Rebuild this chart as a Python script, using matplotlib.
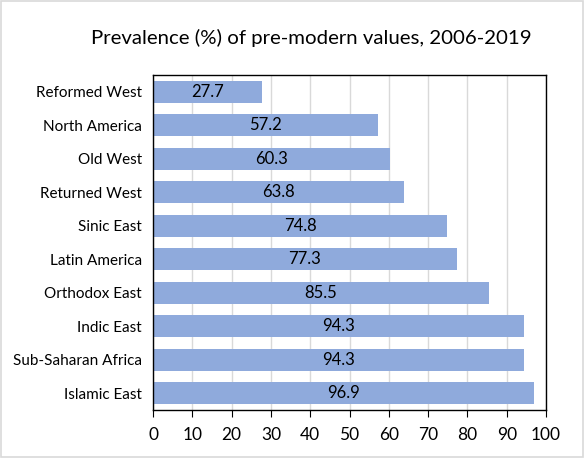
import matplotlib
matplotlib.use("Agg")
import matplotlib.pyplot as plt
from matplotlib.patches import Rectangle

categories = ["Reformed West", "North America", "Old West", "Returned West", "Sinic East",
              "Latin America", "Orthodox East", "Indic East", "Sub-Saharan Africa", "Islamic East"]
values = [27.7, 57.2, 60.3, 63.8, 74.8, 77.3, 85.5, 94.3, 94.3, 96.9]
xticks = [0, 10, 20, 30, 40, 50, 60, 70, 80, 90, 100]
title = "Prevalence (%) of pre-modern values, 2006-2019"

plt.rcParams['font.family'] = ['Lato', 'DejaVu Sans']

fig = plt.figure(figsize=(5.84, 4.58), dpi=100)
fig.patches.append(Rectangle((0.002, 0.002), 0.996, 0.996, transform=fig.transFigure,
                             fill=False, edgecolor="#d9d9d9", linewidth=1.2))
ax = fig.add_axes([0.262, 0.105, 0.673, 0.731])

y = list(range(len(categories)))
ax.barh(y, values, height=0.65, color="#8FAADC", zorder=2)
for yi, v in zip(y, values):
    ax.text(v / 2, yi, f"{v:.1f}", ha="center", va="center", fontsize=12, color="black", zorder=3)

ax.set_yticks(y)
ax.set_yticklabels(categories, fontsize=11)
ax.set_ylim(len(categories) - 0.5, -0.5)
ax.set_xlim(0, 100)
ax.set_xticks(xticks)
ax.set_xticklabels([str(t) for t in xticks], fontsize=12.5)
ax.tick_params(axis="y", length=0, pad=8)
ax.tick_params(axis="x", length=5, direction="out", pad=7)
ax.grid(axis="x", color="#d9d9d9", linewidth=1, zorder=0)
for s in ax.spines.values():
    s.set_color("black")
    s.set_linewidth(1)

fig.text(0.533, 0.917, title, ha="center", va="center", fontsize=14.7)
fig.savefig("out.png", dpi=100)
